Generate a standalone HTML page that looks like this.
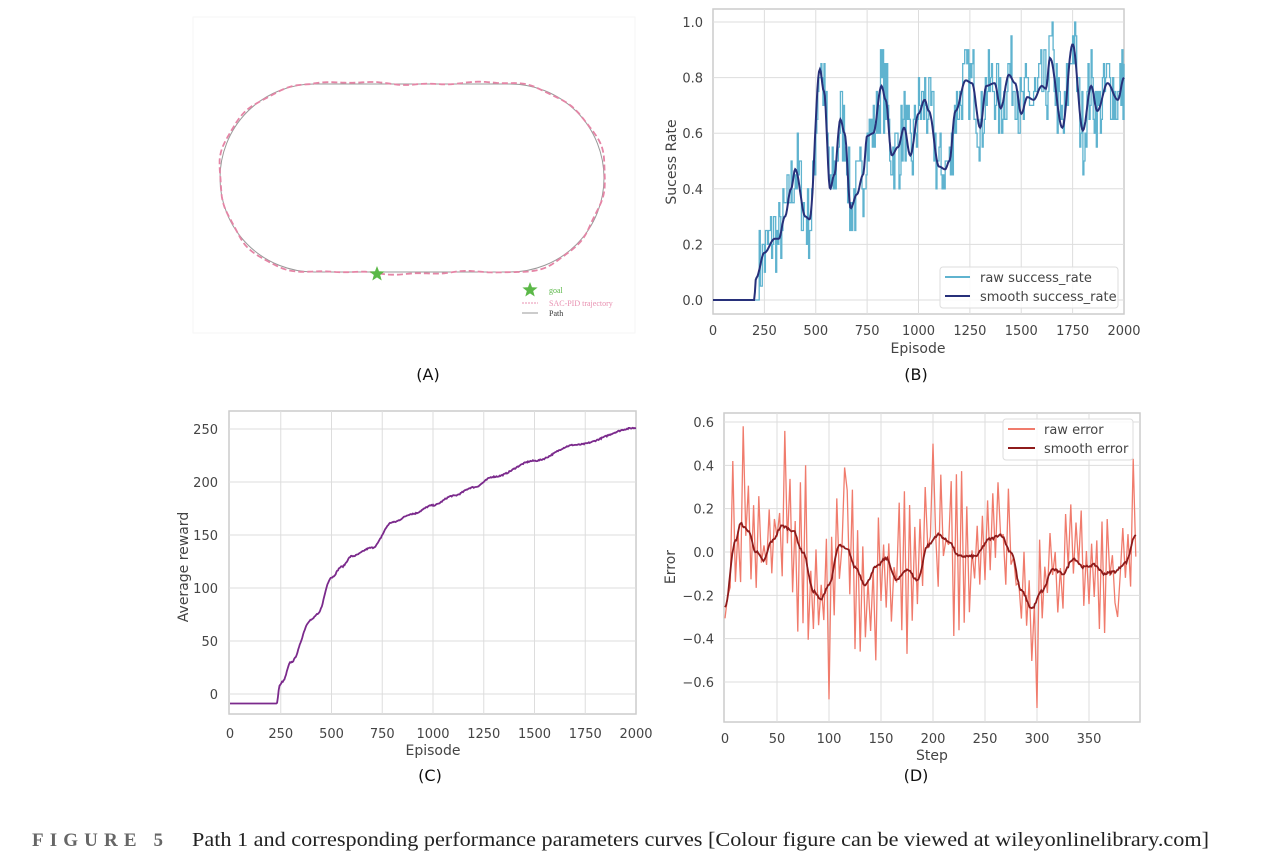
<!DOCTYPE html>
<html><head><meta charset="utf-8">
<style>
html,body{margin:0;padding:0;background:#fff;}
body{width:1261px;height:863px;position:relative;overflow:hidden;font-family:"DejaVu Sans","Liberation Sans",sans-serif;}
svg{position:absolute;left:0;top:0;}
</style></head>
<body>
<svg id="s" width="1261" height="863" xmlns="http://www.w3.org/2000/svg" font-family="DejaVu Sans, Liberation Sans, sans-serif">
</svg>
<script>
const S=document.getElementById('s');
let out='';
function add(x){out+=x;}
let seed=7;function rnd(){seed=(seed*16807)%2147483647;return seed/2147483647;}
function interp(pts,x){for(let i=1;i<pts.length;i++){if(x<=pts[i][0]){const a=pts[i-1],b=pts[i];const t=(x-a[0])/(b[0]-a[0]);const s=(1-Math.cos(Math.PI*t))/2;return a[1]+(b[1]-a[1])*s;}}return pts[pts.length-1][1];}
function txt(x,y,t,anchor,size,fill,extra){add(`<text x="${x}" y="${y}" text-anchor="${anchor||'middle'}" font-size="${size||13}" fill="${fill||'#444'}" ${extra||''}>${t}</text>`);}

// ===== Panel A =====
add('<rect x="193" y="17" width="442" height="316" fill="#fff" stroke="#f6f6f6"/>');
add('<path d="M314,84 L510,84 A94,94 0 0 1 510,272 L314,272 A94,94 0 0 1 314,84 Z" fill="none" stroke="#999" stroke-width="1"/>');
{let d='';for(let i=0;i<=400;i++){const t=i/400*Math.PI*2;const L=196,R=94;const per=2*L+2*Math.PI*R;let s=t/(2*Math.PI)*per;let x,y;
if(s<L){x=314+s;y=84;}else if(s<L+Math.PI*R){const a=(s-L)/R;x=510+R*Math.sin(a);y=178-R*Math.cos(a);}else if(s<2*L+Math.PI*R){x=510-(s-L-Math.PI*R);y=272;}else{const a=(s-2*L-Math.PI*R)/R;x=314-R*Math.sin(a);y=178+R*Math.cos(a);}
const n=1.4*Math.sin(i*0.11)+0.8*Math.sin(i*0.31)+0.8;const cx=412,cy=178;const dx=x-cx,dy=y-cy,m=Math.hypot(dx,dy);x+=dx/m*n;y+=dy/m*n;d+=(i?'L':'M')+x.toFixed(1)+','+y.toFixed(1);}
add(`<path d="${d}" fill="none" stroke="#e585a6" stroke-width="1.8" stroke-dasharray="6,3"/>`);}
function star(cx,cy,r,c){let d='';for(let i=0;i<10;i++){const a=-Math.PI/2+i*Math.PI/5;const rr=i%2?r*0.42:r;d+=(i?'L':'M')+(cx+rr*Math.cos(a)).toFixed(1)+','+(cy+rr*Math.sin(a)).toFixed(1);}add(`<path d="${d}Z" fill="${c}"/>`);}
star(377,274,8,'#5bb848');star(530,290,8,'#5bb848');
txt(549,293,'goal','start',8,'#5bb848','font-family="Liberation Serif,serif"');
add('<line x1="522" y1="303" x2="538" y2="303" stroke="#e890b0" stroke-dasharray="2,1"/>');
txt(549,306,'SAC-PID  trajectory','start',8,'#e890b0','font-family="Liberation Serif,serif"');
add('<line x1="522" y1="313" x2="538" y2="313" stroke="#999"/>');
txt(549,316,'Path','start',8,'#333','font-family="Liberation Serif,serif"');
txt(428,380,'(A)','middle',16,'#111');

// ===== Panel B =====
{const X0=713,X1=1124,fx=e=>X0+e*(X1-X0)/2000,fy=v=>300-v*278;
add(`<rect x="713" y="9" width="411" height="305" fill="#fff" stroke="#ccc" stroke-width="1.5"/>`);
for(let e=250;e<2000;e+=250)add(`<line x1="${fx(e)}" y1="9" x2="${fx(e)}" y2="314" stroke="#ddd"/>`);
for(let v=0;v<=1.001;v+=0.2)add(`<line x1="713" y1="${fy(v)}" x2="1124" y2="${fy(v)}" stroke="#ddd"/>`);
for(let e=0;e<=2000;e+=250)txt(fx(e),335,e,'middle',13);
for(let v=0;v<=1.001;v+=0.2)txt(703,fy(v)+5,v.toFixed(1),'end',13);
txt(918,353,'Episode','middle',14);
add(`<text transform="translate(676,162) rotate(-90)" text-anchor="middle" font-size="14" fill="#444">Sucess Rate</text>`);
const P=[[0,0],[200,0],[210,0.08],[250,0.17],[300,0.22],[320,0.22],[350,0.3],[380,0.4],[400,0.47],[450,0.3],[470,0.29],[520,0.83],[540,0.75],[570,0.4],[590,0.45],[620,0.65],[640,0.6],[670,0.33],[700,0.38],[730,0.45],[750,0.59],[780,0.6],[820,0.77],[840,0.72],[870,0.52],[900,0.55],[930,0.62],[960,0.52],[1000,0.67],[1030,0.72],[1050,0.68],[1100,0.48],[1130,0.47],[1150,0.5],[1180,0.68],[1230,0.79],[1260,0.78],[1300,0.62],[1330,0.77],[1370,0.78],[1400,0.69],[1440,0.81],[1470,0.78],[1500,0.67],[1530,0.73],[1560,0.72],[1600,0.77],[1620,0.76],[1640,0.87],[1700,0.62],[1750,0.92],[1800,0.61],[1840,0.77],[1870,0.68],[1920,0.78],[1970,0.72],[2000,0.8]];
let d='',pv=0;for(let e=0;e<=2000;e+=5){let v=interp(P,e);if(e>215){v+=(rnd()-0.5)*0.28;v=Math.round(v*20)/20;v=Math.max(0,Math.min(1,v));}else v=0;
d+=(e?'L':'M')+fx(e).toFixed(1)+','+fy(pv).toFixed(1)+'L'+fx(e).toFixed(1)+','+fy(v).toFixed(1);pv=v;}
add(`<path d="${d}" fill="none" stroke="#5fb3cf" stroke-width="1.3"/>`);
d='';for(let e=0;e<=2000;e+=4){d+=(e?'L':'M')+fx(e).toFixed(1)+','+fy(interp(P,e)).toFixed(1);}
add(`<path d="${d}" fill="none" stroke="#27307a" stroke-width="2"/>`);
add('<rect x="940" y="267" width="178" height="41" rx="3" fill="#fff" fill-opacity="0.85" stroke="#ddd"/>');
add('<line x1="945" y1="277" x2="970" y2="277" stroke="#5fb3cf" stroke-width="2"/>');txt(980,282,'raw success_rate','start',13);
add('<line x1="945" y1="296" x2="970" y2="296" stroke="#27307a" stroke-width="2"/>');txt(980,301,'smooth success_rate','start',13);
txt(916,380,'(B)','middle',16,'#111');}

// ===== Panel C =====
{const fx=e=>230+e*406/2000,fy=v=>694-v*1.06;
add(`<rect x="229" y="411" width="407" height="303" fill="#fff" stroke="#ccc" stroke-width="1.5"/>`);
for(let e=250;e<2000;e+=250)add(`<line x1="${fx(e)}" y1="411" x2="${fx(e)}" y2="714" stroke="#ddd"/>`);
for(let v=0;v<=250;v+=50)add(`<line x1="229" y1="${fy(v)}" x2="636" y2="${fy(v)}" stroke="#ddd"/>`);
for(let e=0;e<=2000;e+=250)txt(fx(e),738,e,'middle',13);
for(let v=0;v<=250;v+=50)txt(218,fy(v)+5,v,'end',13);
txt(433,755,'Episode','middle',14);
add(`<text transform="translate(188,567) rotate(-90)" text-anchor="middle" font-size="14" fill="#444">Average reward</text>`);
const P=[[0,-9],[230,-9],[245,8],[260,12],[300,30],[400,70],[430,75],[500,110],[550,120],[600,130],[700,138],[800,162],[900,170],[1000,178],[1100,187],[1200,195],[1300,205],[1500,220],[1700,235],[2000,251]];
let d='';for(let e=0;e<=2000;e+=4){let v=interp(P,e)+(e>240?(rnd()-0.5)*1.2:0);d+=(e?'L':'M')+fx(e).toFixed(1)+','+fy(v).toFixed(1);}
add(`<path d="${d}" fill="none" stroke="#7b2a8c" stroke-width="1.8"/>`);
txt(430,781,'(C)','middle',16,'#111');}

// ===== Panel D =====
{const fx=s=>725+s*1.04,fy=v=>552-v*216.7;
add(`<rect x="724" y="413" width="416" height="309" fill="#fff" stroke="#ccc" stroke-width="1.5"/>`);
for(let s=50;s<=350;s+=50)add(`<line x1="${fx(s)}" y1="413" x2="${fx(s)}" y2="722" stroke="#ddd"/>`);
for(let v=-0.6;v<=0.601;v+=0.2)add(`<line x1="724" y1="${fy(v)}" x2="1140" y2="${fy(v)}" stroke="#ddd"/>`);
for(let s=0;s<=350;s+=50)txt(fx(s),743,s,'middle',13);
for(let v=-0.6;v<=0.601;v+=0.2)txt(714,fy(v)+5,(Math.abs(v)<1e-9?'0.0':(v<0?'\u2212'+(-v).toFixed(1):v.toFixed(1))),'end',13);
txt(932,760,'Step','middle',14);
add(`<text transform="translate(675,567) rotate(-90)" text-anchor="middle" font-size="14" fill="#444">Error</text>`);
const P=[[0,-0.25],[10,0.05],[15,0.13],[22,0.1],[30,0],[37,-0.04],[45,0.05],[55,0.12],[65,0.1],[75,0],[85,-0.18],[92,-0.22],[100,-0.15],[110,0.03],[118,0.01],[125,-0.07],[135,-0.15],[145,-0.07],[155,-0.03],[165,-0.13],[175,-0.08],[185,-0.13],[195,0.03],[205,0.08],[215,0.05],[225,-0.02],[240,-0.02],[255,0.06],[265,0.08],[275,0],[285,-0.18],[295,-0.26],[305,-0.18],[315,-0.08],[325,-0.1],[335,-0.03],[345,-0.07],[355,-0.06],[365,-0.1],[375,-0.09],[385,-0.05],[395,0.08]];
const spikes={18:0.58,8:0.42,115:0.39,100:-0.68,200:0.5,300:-0.72,192:0.3,145:-0.5,290:-0.34,377:-0.3,392:0.43};
let d='',i=0;for(let s=0;s<=395;s+=2.5,i++){let base=interp(P,s);let amp=(s>40&&s<95)||(s>120&&s<180)?0.35:0.22;if(s>190&&s<240)amp=0.32;let v=base+(i%2?1:-1)*amp*rnd()*1.3;
for(const k in spikes){if(Math.abs(s-k)<1.3)v=spikes[k];}
v=Math.max(-0.72,Math.min(0.58,v));d+=(i?'L':'M')+fx(s).toFixed(1)+','+fy(v).toFixed(1);}
add(`<path d="${d}" fill="none" stroke="#f07b6c" stroke-width="1.3"/>`);
d='';for(let s=0;s<=395;s+=1){d+=(s?'L':'M')+fx(s).toFixed(1)+','+fy(interp(P,s)+(rnd()-0.5)*0.012).toFixed(1);}
add(`<path d="${d}" fill="none" stroke="#8e1b1b" stroke-width="1.8"/>`);
add('<rect x="1003" y="419" width="130" height="41" rx="3" fill="#fff" fill-opacity="0.85" stroke="#ddd"/>');
add('<line x1="1008" y1="429" x2="1035" y2="429" stroke="#f07b6c" stroke-width="2"/>');txt(1044,434,'raw error','start',13);
add('<line x1="1008" y1="448" x2="1035" y2="448" stroke="#8e1b1b" stroke-width="2"/>');txt(1044,453,'smooth error','start',13);
txt(916,781,'(D)','middle',16,'#111');}

// caption
add('<text x="32" y="846" font-family="Liberation Serif,serif" font-size="19" fill="#666" font-weight="bold" textLength="131" lengthAdjust="spacing">FIGURE 5</text>');
add('<text x="192" y="846" font-family="Liberation Serif,serif" font-size="20" fill="#222" textLength="1017" lengthAdjust="spacingAndGlyphs">Path 1 and corresponding performance parameters curves [Colour figure can be viewed at wileyonlinelibrary.com]</text>');
S.innerHTML=out;
</script>
</body></html>
